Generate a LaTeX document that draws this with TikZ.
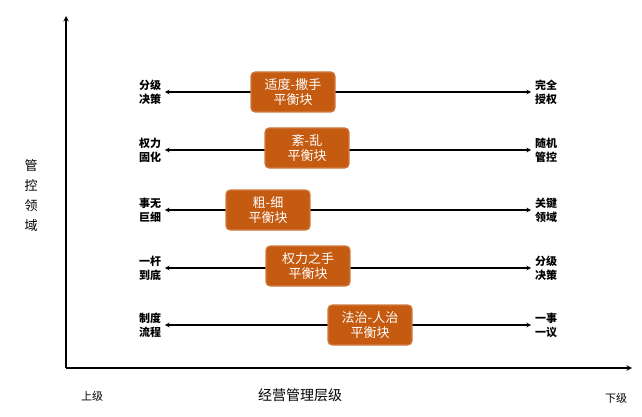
\documentclass[tikz,border=0pt]{standalone}
\usepackage{fontspec}
\setmainfont{Noto Sans CJK SC}
\definecolor{blockorange}{HTML}{C55A11}
\tikzstyle{block}=[rectangle, rounded corners=4pt, draw=blockorange!80!white, fill=blockorange, text=white, minimum width=84pt, minimum height=40pt, align=center, inner sep=1pt, font=\fontsize{13}{15}\selectfont]
\tikzstyle{end}=[align=center, font=\bfseries\fontsize{11}{14}\selectfont]
\begin{document}
\begin{tikzpicture}[x=1pt, y=-1pt, line width=1.1pt, >=stealth]
                \useasboundingbox (0,0) rectangle (642,417);
                \coordinate (o) at (66,368);
                \coordinate (ytop) at (66,16);
                \coordinate (xend) at (632,368);
                \draw[->, line width=1.4pt] (o)--(ytop);
                \draw[->, line width=1.4pt] (o)--(xend);
                \node (yl) at (31,196) [align=center, font=\fontsize{13}{20}\selectfont] {管\\控\\领\\域};
                \node (up) at (92,396) [font=\fontsize{11}{13}\selectfont] {上级};
                \node (down) at (616,398) [font=\fontsize{11}{13}\selectfont] {下级};
                \node (xl) at (300,395) [font=\fontsize{14}{16}\selectfont] {经营管理层级};
                \node[end] (l1) at (150,92) {分级\\决策};
                \node[end] (l2) at (150,150) {权力\\固化};
                \node[end] (l3) at (150,210) {事无\\巨细};
                \node[end] (l4) at (150,268) {一杆\\到底};
                \node[end] (l5) at (150,325) {制度\\流程};
                \node[end] (r1) at (546,92) {完全\\授权};
                \node[end] (r2) at (546,150) {随机\\管控};
                \node[end] (r3) at (546,210) {关键\\领域};
                \node[end] (r4) at (546,268) {分级\\决策};
                \node[end] (r5) at (546,325) {一事\\一议};
                \draw[<->]  (l1)--(r1);
                \draw[<->]  (l2)--(r2);
                \draw[<->]  (l3)--(r3);
                \draw[<->]  (l4)--(r4);
                \draw[<->]  (l5)--(r5);
                \node[block] (b1) at (293,92) {适度-撒手\\平衡块};
                \node[block] (b2) at (307,148) {紊-乱\\平衡块};
                \node[block] (b3) at (268,210) {粗-细\\平衡块};
                \node[block] (b4) at (308,266) {权力之手\\平衡块};
                \node[block] (b5) at (370,325) {法治-人治\\平衡块};
\end{tikzpicture}
\end{document}
